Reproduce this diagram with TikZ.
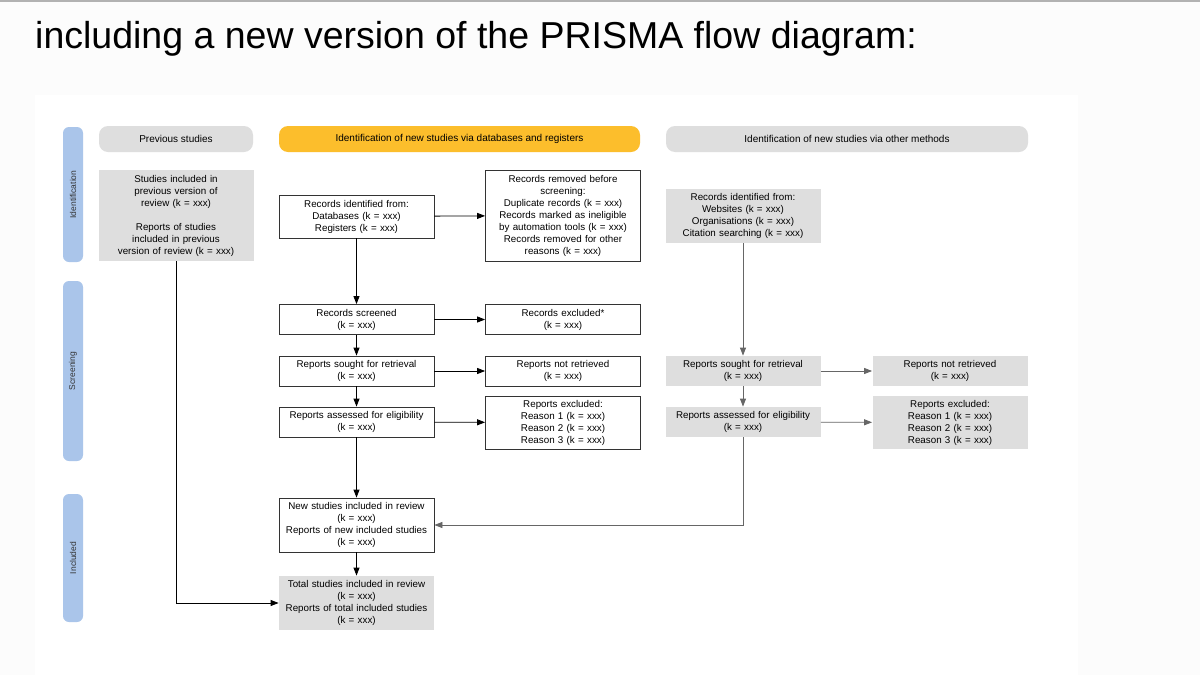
\documentclass[tikz,border=0pt]{standalone}
\usepackage{fontspec}
\setmainfont{Liberation Sans}
\usetikzlibrary{arrows.meta}
\definecolor{prismayellow}{RGB}{252,190,44}
\definecolor{prismagrey}{RGB}{222,222,222}
\definecolor{prismablue}{RGB}{170,197,234}
\definecolor{pageback}{RGB}{252,252,252}
\tikzset{
  stage/.style={fill=prismablue, rounded corners=6pt, rotate=90, minimum height=20pt,
    inner sep=0pt, font=\fontsize{8.5}{10}\selectfont, text=black!80},
  header/.style={rounded corners=9pt, minimum height=26pt, inner sep=0pt,
    font=\fontsize{10}{11}\selectfont},
  box/.style={draw=black!80, line width=0.8pt, fill=white, minimum width=155pt, text width=152pt,
    align=center, inner sep=0pt, font=\fontsize{9.8}{12}\selectfont},
  greybox/.style={box, draw=none, fill=prismagrey},
  flow/.style={line width=0.8pt, -{Triangle[length=8pt,width=6pt]}},
  greyflow/.style={flow, draw=black!60}
}
\begin{document}
\begin{tikzpicture}[x=1pt,y=-1pt]
    \useasboundingbox (0,0) rectangle (1200,675);
    \fill[pageback] (0,0) rectangle (1200,675);
    \fill[black!30] (0,0) rectangle (1200,2);
    \fill[white] (35,95) rectangle (1078,675);
    \node[anchor=base west, font=\fontsize{37.5}{42}\selectfont, inner sep=0pt] (title) at (35,48) {including a new version of the PRISMA flow diagram:};

    \node[stage, minimum width=135pt] (identification) at (73,194.5) {Identification};
    \node[stage, minimum width=180pt] (screening) at (73,371) {Screening};
    \node[stage, minimum width=128pt] (included) at (73,558) {Included};

    \node[header, fill=prismagrey, minimum width=154pt] (prevhead) at (176,139) {Previous studies};
    \node[header, fill=prismayellow, minimum width=361pt] (dbhead) at (459.5,139) {Identification of new studies via databases and registers};
    \node[header, fill=prismagrey, minimum width=362pt] (otherhead) at (847,139) {Identification of new studies via other methods};

    \node[greybox, minimum height=91pt] (prev) at (176,215.5) {Studies included in\\ previous version of\\ review (k = xxx)\\[12pt] Reports of studies\\ included in previous\\ version of review (k = xxx)};
    \node[box, minimum height=43pt] (dbrec) at (356.5,216.5) {Records identified from:\\ Databases (k = xxx)\\ Registers (k = xxx)};
    \node[box, minimum height=91pt] (removed) at (563,215.5) {Records removed before\\ screening:\\ Duplicate records (k = xxx)\\ Records marked as ineligible\\ by automation tools (k = xxx)\\ Records removed for other\\ reasons (k = xxx)};
    \node[greybox, minimum height=54pt] (otherrec) at (743,216) {Records identified from:\\ Websites (k = xxx)\\ Organisations (k = xxx)\\ Citation searching (k = xxx)};

    \node[box, minimum height=30pt] (screened) at (356.5,319.5) {Records screened\\ (k = xxx)};
    \node[box, minimum height=30pt] (excluded) at (563,319.5) {Records excluded*\\ (k = xxx)};
    \node[box, minimum height=30pt] (sought) at (356.5,371) {Reports sought for retrieval\\ (k = xxx)};
    \node[box, minimum height=30pt] (notret) at (563,371) {Reports not retrieved\\ (k = xxx)};
    \node[box, minimum height=30pt] (assessed) at (356.5,422) {Reports assessed for eligibility\\ (k = xxx)};
    \node[box, minimum height=53pt] (repexcl) at (563,422.5) {Reports excluded:\\ Reason 1 (k = xxx)\\ Reason 2 (k = xxx)\\ Reason 3 (k = xxx)};

    \node[greybox, minimum height=30pt] (othersought) at (743,371) {Reports sought for retrieval\\ (k = xxx)};
    \node[greybox, minimum height=30pt] (othernotret) at (950,371) {Reports not retrieved\\ (k = xxx)};
    \node[greybox, minimum height=30pt] (otherassessed) at (743,422) {Reports assessed for eligibility\\ (k = xxx)};
    \node[greybox, minimum height=53pt] (otherexcl) at (950,422.5) {Reports excluded:\\ Reason 1 (k = xxx)\\ Reason 2 (k = xxx)\\ Reason 3 (k = xxx)};

    \node[box, minimum height=54pt] (new) at (356.5,525) {New studies included in review\\ (k = xxx)\\ Reports of new included studies\\ (k = xxx)};
    \node[greybox, minimum height=54pt] (total) at (356.5,603) {Total studies included in review\\ (k = xxx)\\ Reports of total included studies\\ (k = xxx)};

    \draw[flow] (dbrec) -- (removed);
    \draw[flow] (dbrec) -- (screened);
    \draw[flow] (screened) -- (excluded);
    \draw[flow] (screened) -- (sought);
    \draw[flow] (sought) -- (notret);
    \draw[flow] (sought) -- (assessed);
    \draw[flow] (assessed) -- (repexcl);
    \draw[flow] (assessed) -- (new);
    \draw[flow] (new) -- (total);
    \draw[flow] (prev.south) |- (total.west);
    \draw[greyflow] (otherrec) -- (othersought);
    \draw[greyflow] (othersought) -- (othernotret);
    \draw[greyflow] (othersought) -- (otherassessed);
    \draw[greyflow] (otherassessed) -- (otherexcl);
    \draw[greyflow] (otherassessed.south) |- (new.east);
\end{tikzpicture}
\end{document}
